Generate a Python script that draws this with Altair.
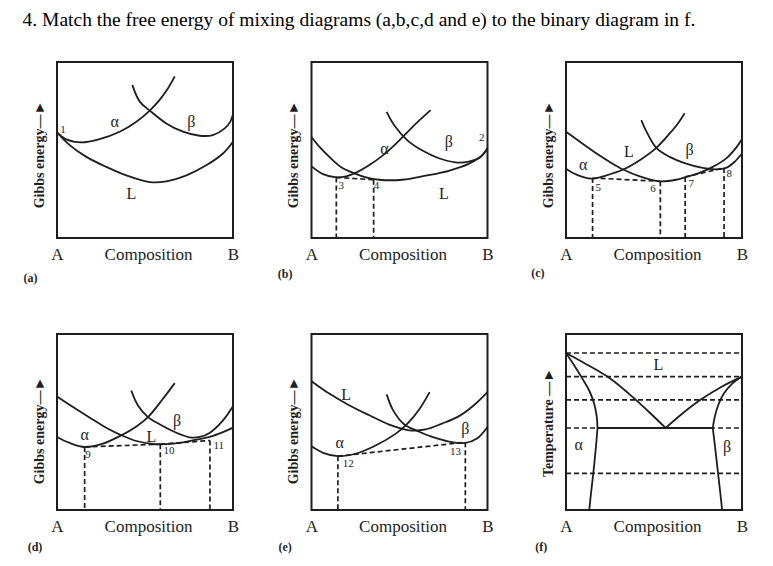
import altair as alt
import pandas as pd

W = 176
H = 176
SERIF = "Liberation Serif"
INK = "#1e1e1e"

# ---------- (a) ----------
a_alpha = [(0, .600), (.053, .560), (.138, .543), (.242, .562), (.356, .604), (.451, .661),
           (.527, .724), (.583, .785), (.631, .851), (.669, .918)]
a_beta = [(.428, .870), (.470, .775), (.527, .724), (.621, .651), (.716, .604), (.811, .581),
          (.886, .585), (.953, .623), (.985, .661), (1.0, .703)]
a_liq = [(0, .600), (.072, .528), (.167, .461), (.280, .404), (.394, .356), (.527, .318),
         (.621, .322), (.735, .356), (.848, .413), (.943, .480), (1.0, .547)]
a_dash = []
a_phase = [("α", .328, .661), ("β", .763, .661), ("L", .422, .251)]
a_points = [("1", .034, .613)]

# ---------- (b) ----------
b_alpha = [(0, .407), (.066, .363), (.141, .344), (.197, .350), (.244, .367), (.329, .415),
           (.404, .468), (.479, .535), (.555, .612), (.620, .675), (.677, .727)]
b_liq = [(0, .574), (.047, .516), (.103, .459), (.169, .402), (.244, .367), (.310, .344),
         (.385, .331), (.517, .331), (.648, .354), (.780, .382), (.893, .421), (.968, .468), (1.0, .507)]
b_beta = [(.427, .717), (.470, .641), (.545, .555), (.630, .497), (.724, .453), (.818, .430),
          (.893, .434), (.959, .459), (1.0, .511)]
b_dash = [(.141, .344, .141, 0), (.353, .331, .353, 0), (.141, .344, .353, .331)]
b_phase = [("α", .414, .507), ("β", .780, .545), ("L", .752, .249)]
b_points = [("3", .169, .293), ("4", .370, .293), ("2", .968, .568)]

# ---------- (c) ----------
c_liq = [(0, .604), (.079, .547), (.174, .480), (.249, .432), (.325, .389), (.419, .350),
         (.532, .322), (.626, .331), (.683, .347), (.758, .370), (.834, .404), (.909, .451),
         (.966, .512), (1.0, .562)]
c_alpha = [(0, .394), (.060, .360), (.145, .337), (.230, .356), (.325, .389), (.419, .442),
           (.513, .512), (.589, .594), (.636, .651), (.674, .709)]
c_beta = [(.428, .670), (.453, .613), (.513, .512), (.589, .461), (.683, .423), (.777, .398),
          (.853, .390), (.909, .398), (.957, .432), (1.0, .480)]
c_dash = [(.151, .341, .151, 0), (.536, .322, .536, 0), (.677, .347, .677, 0), (.898, .398, .898, 0),
          (.151, .341, .536, .322), (.677, .347, .898, .398)]
c_phase = [("L", .358, .490), ("α", .098, .413), ("β", .702, .499)]
c_points = [("5", .183, .284), ("6", .494, .280), ("7", .711, .309), ("8", .928, .366)]

# ---------- (d) ----------
d_alpha = [(0, .415), (.072, .381), (.157, .358), (.261, .377), (.366, .425), (.451, .475),
           (.517, .528), (.602, .632), (.669, .721)]
d_liq = [(0, .645), (.091, .585), (.205, .513), (.290, .462), (.366, .425), (.451, .392),
         (.545, .375), (.621, .374), (.697, .381), (.771, .396), (.867, .415), (.943, .442), (1.0, .468)]
d_beta = [(.422, .679), (.460, .594), (.517, .528), (.583, .487), (.669, .443), (.754, .413),
          (.811, .415), (.867, .438), (.941, .506), (1.0, .589)]
d_dash = [(.157, .358, .157, 0), (.587, .374, .587, 0), (.869, .395, .869, 0),
          (.157, .358, .587, .374), (.587, .374, .869, .395)]
d_phase = [("α", .157, .425), ("L", .536, .415), ("β", .682, .506)]
d_points = [("9", .176, .311), ("10", .636, .336), ("11", .919, .362)]

# ---------- (e) ----------
e_liq = [(0, .732), (.103, .660), (.216, .594), (.329, .538), (.442, .485), (.555, .453),
         (.648, .458), (.742, .491), (.836, .532), (.921, .594), (1.0, .670)]
e_alpha = [(0, .362), (.066, .325), (.150, .306), (.254, .321), (.367, .368), (.479, .434),
           (.545, .491), (.611, .570), (.671, .670)]
e_beta = [(.427, .657), (.464, .566), (.526, .487), (.602, .449), (.686, .415), (.780, .389),
          (.874, .381), (.940, .406), (1.0, .472)]
e_dash = [(.150, .306, .150, 0), (.874, .385, .874, 0), (.150, .306, .874, .385)]
e_phase = [("L", .197, .651), ("α", .160, .381), ("β", .874, .462)]
e_points = [("12", .209, .260), ("13", .818, .330)]

# ---------- (f) binary eutectic diagram ----------
f_liq_left = [(0, .892), (.113, .830), (.245, .751), (.358, .660), (.472, .557), (.566, .466)]
f_liq_right = [(.566, .466), (.660, .547), (.764, .626), (.887, .702), (1.0, .758)]
f_sol_left = [(0, .892), (.047, .821), (.094, .745), (.132, .679), (.160, .604), (.175, .528), (.179, .466)]
f_solvus_left = [(.179, .466), (.170, .358), (.155, .208), (.142, .094), (.132, 0)]
f_sol_right = [(1.0, .758), (.943, .717), (.896, .660), (.864, .594), (.845, .528), (.834, .466)]
f_solvus_right = [(.834, .466), (.849, .340), (.864, .208), (.877, .094), (.887, 0)]
f_eutectic = [(.179, .466), (.834, .466)]
f_temps = [.892, .758, .626, .466, .208]
f_dash = [(0, t, 1, t) for t in f_temps]
f_phase = [("L", .525, .826), ("α", .072, .368), ("β", .915, .358)]
f_points = []

TAGS = {"a": ("(a)", -.150, -.225), "b": ("(b)", -.150, -.205), "c": ("(c)", -.160, -.200),
        "d": ("(d)", -.125, -.210), "e": ("(e)", -.150, -.210), "f": ("(f)", -.140, -.210)}

xs = alt.Scale(domain=[0, 1], nice=False, zero=False)
ys = alt.Scale(domain=[0, 1], nice=False, zero=False)

x_axis = alt.Axis(values=[0, 1], labelExpr="datum.value == 0 ? 'A' : 'B'", ticks=False, tickSize=0,
                  domain=False, grid=False, labelPadding=21, labelBaseline="alphabetic",
                  labelFont=SERIF, labelFontSize=17, labelColor=INK, labelFlush=False,
                  labelOverlap=False, title="Composition", titleFont=SERIF, titleFontSize=17,
                  titleFontWeight="normal", titleColor=INK, titleX=91, titleY=21,
                  titleBaseline="alphabetic", titleAlign="center")


def y_axis(title, shift):
    return alt.Axis(labels=False, ticks=False, domain=False, grid=False, title=title,
                    titleFont=SERIF, titleFontSize=14, titleFontWeight="bold", titleColor=INK,
                    titleAngle=270, titleX=-18, titleY=H / 2 + shift, titleAlign="center",
                    titleBaseline="middle")


def panel(key, curves, dashes, phases, points, ytitle, shift, solid=None):
    yax = y_axis(ytitle, shift)
    X = alt.X("x:Q", scale=xs, axis=x_axis)
    Y = alt.Y("y:Q", scale=ys, axis=yax)

    rows = []
    for name, pts in curves.items():
        for i, (x, y) in enumerate(pts):
            rows.append({"curve": name, "i": i, "x": x, "y": y})
    curve_df = pd.DataFrame(rows)

    layers = []
    if dashes:
        dash_df = pd.DataFrame(dashes, columns=["x", "y", "x2", "y2"])
        layers.append(alt.Chart(dash_df).mark_rule(color=INK, strokeWidth=1.7, strokeDash=[5, 3])
                      .encode(x=X, y=Y, x2="x2:Q", y2="y2:Q"))
    layers.append(alt.Chart(curve_df).mark_line(color=INK, strokeWidth=1.8, interpolate="catmull-rom")
                  .encode(x=X, y=Y, detail="curve:N", order="i:Q"))
    if solid:
        solid_df = pd.DataFrame(solid, columns=["x", "y"])
        layers.append(alt.Chart(solid_df).mark_line(color=INK, strokeWidth=1.8)
                      .encode(x=X, y=Y))
    phase_df = pd.DataFrame(phases, columns=["t", "x", "y"])
    layers.append(alt.Chart(phase_df).mark_text(font=SERIF, fontSize=16, color=INK)
                  .encode(x=X, y=Y, text="t:N"))
    if points:
        pt_df = pd.DataFrame(points, columns=["t", "x", "y"])
        layers.append(alt.Chart(pt_df).mark_text(font=SERIF, fontSize=11, color=INK)
                      .encode(x=X, y=Y, text="t:N"))
    tag_df = pd.DataFrame([TAGS[key]], columns=["t", "x", "y"])
    layers.append(alt.Chart(tag_df).mark_text(font=SERIF, fontSize=12, fontWeight="bold", color=INK)
                  .encode(x=X, y=Y, text="t:N"))
    return alt.layer(*layers).properties(width=W, height=H)


GIBBS = "Gibbs energy—►"
TEMP = "Temperature —►"

pa = panel("a", {"alpha": a_alpha, "beta": a_beta, "L": a_liq}, a_dash, a_phase, a_points, GIBBS, 4)
pb = panel("b", {"alpha": b_alpha, "beta": b_beta, "L": b_liq}, b_dash, b_phase, b_points, GIBBS, 4)
pc = panel("c", {"alpha": c_alpha, "beta": c_beta, "L": c_liq}, c_dash, c_phase, c_points, GIBBS, 4)
pd_ = panel("d", {"alpha": d_alpha, "beta": d_beta, "L": d_liq}, d_dash, d_phase, d_points, GIBBS, 8)
pe = panel("e", {"alpha": e_alpha, "beta": e_beta, "L": e_liq}, e_dash, e_phase, e_points, GIBBS, 8)
pf = panel("f", {"ll": f_liq_left, "lr": f_liq_right, "sl": f_sol_left, "vl": f_solvus_left,
                 "sr": f_sol_right, "vr": f_solvus_right}, f_dash, f_phase, f_points, TEMP, 0,
           solid=f_eutectic)

chart = alt.concat(
    pa, pb, pc, pd_, pe, pf, columns=3, bounds="flush",
    spacing={"row": 96, "column": 78.5},
).properties(
    title=alt.TitleParams(
        "4. Match the free energy of mixing diagrams (a,b,c,d and e) to the binary diagram in f.",
        anchor="start", font=SERIF, fontSize=19.5, fontWeight="normal", color="black", offset=31),
    padding={"left": 22, "top": 9, "right": 0, "bottom": 0},
    background="white",
).configure_view(stroke=INK, strokeWidth=2)

chart.save("out.html", embed_options={"renderer": "svg", "actions": False})
